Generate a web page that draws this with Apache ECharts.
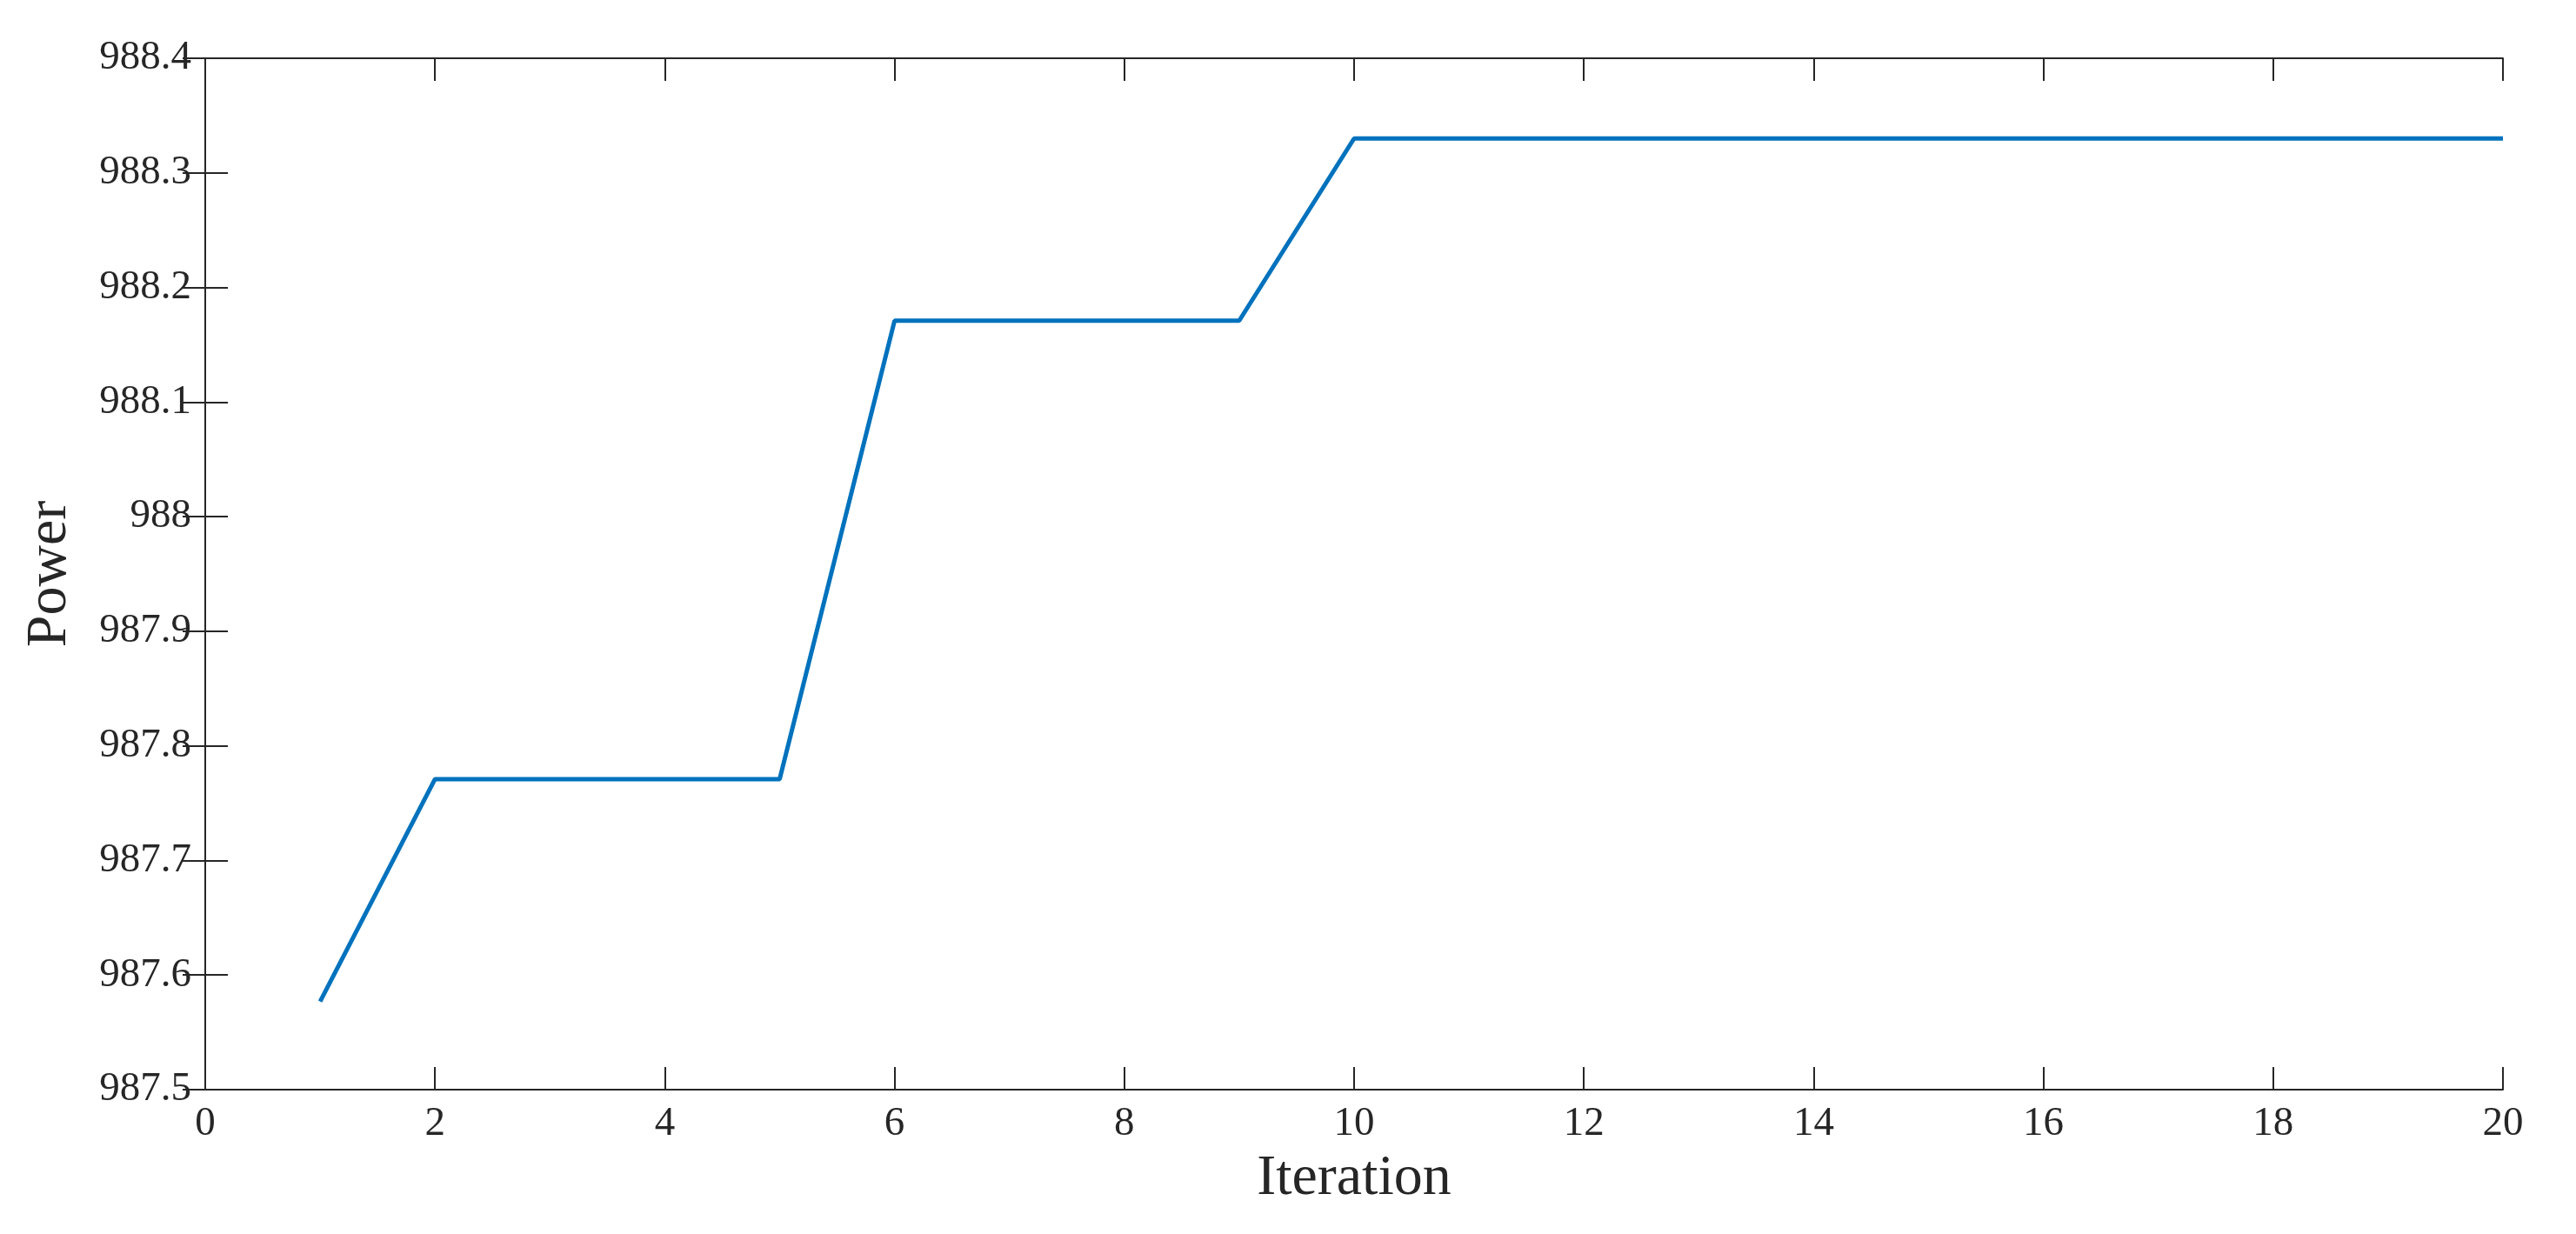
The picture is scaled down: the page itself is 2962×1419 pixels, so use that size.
<!DOCTYPE html>
<html>
<head>
<meta charset="utf-8">
<script src="https://cdn.jsdelivr.net/npm/echarts@6/dist/echarts.min.js"></script>
<style>
html,body{margin:0;padding:0;background:#fff;}
#chart{width:2962px;height:1419px;}
</style>
</head>
<body>
<div id="chart"></div>
<script>
const iterations = [1,2,3,4,5,6,7,8,9,10,11,12,13,14,15,16,17,18,19,20];
const power = [987.577,987.771,987.771,987.771,987.771,988.171,988.171,988.171,988.171,988.330,
               988.330,988.330,988.330,988.330,988.330,988.330,988.330,988.330,988.330,988.330];
const xTitle = 'Iteration';
const yTitle = 'Power';

const FONT = '"Liberation Serif", "DejaVu Serif", serif';
const INK = '#262626';
const chart = echarts.init(document.getElementById('chart'));
const fmtY = v => String(Math.round(v * 10) / 10);
const axisLineStyle = {show: true, lineStyle: {color: INK, width: 2}};
const tick = {show: true, inside: true, length: 26, lineStyle: {color: INK, width: 2}};

chart.setOption({
  animation: false,
  backgroundColor: '#fff',
  grid: {left: 236, right: 84, top: 67, bottom: 166, containLabel: false},
  xAxis: [{
    type: 'value', min: 0, max: 20, interval: 2, position: 'bottom',
    name: xTitle, nameLocation: 'middle', nameGap: 70,
    nameTextStyle: {fontFamily: FONT, fontSize: 66, color: INK},
    axisLine: axisLineStyle, axisTick: tick, splitLine: {show: false},
    axisLabel: {fontFamily: FONT, fontSize: 47, color: INK, margin: 16}
  }, {
    type: 'value', min: 0, max: 20, interval: 2, position: 'top',
    axisLine: axisLineStyle, axisTick: tick, splitLine: {show: false},
    axisLabel: {show: false}
  }],
  yAxis: [{
    type: 'value', min: 987.5, max: 988.4, interval: 0.1, position: 'left',
    name: yTitle, nameLocation: 'middle', nameGap: 145,
    nameTextStyle: {fontFamily: FONT, fontSize: 66, color: INK},
    axisLine: axisLineStyle, axisTick: tick, splitLine: {show: false},
    axisLabel: {fontFamily: FONT, fontSize: 47, color: INK, margin: 16, formatter: fmtY}
  }, {
    type: 'value', min: 987.5, max: 988.4, interval: 0.1, position: 'right',
    axisLine: axisLineStyle, axisTick: tick, splitLine: {show: false},
    axisLabel: {show: false}
  }],
  series: [{
    type: 'line',
    xAxisIndex: 0, yAxisIndex: 0,
    data: iterations.map((x, i) => [x, power[i]]),
    showSymbol: false,
    lineStyle: {color: '#0072BD', width: 5},
    itemStyle: {color: '#0072BD'}
  }]
});
</script>
</body>
</html>
